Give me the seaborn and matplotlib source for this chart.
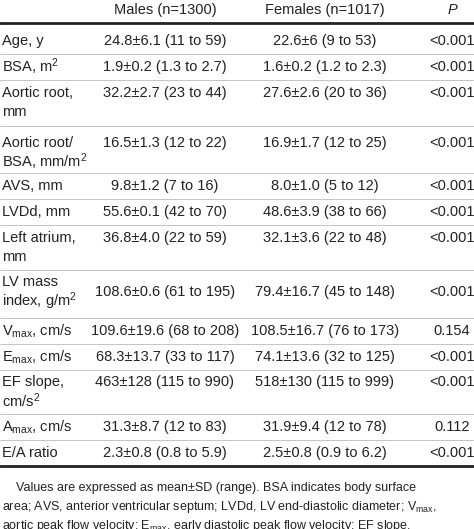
import matplotlib
matplotlib.use("Agg")
import matplotlib.pyplot as plt
import seaborn as sns

sns.set_theme(style="white")
plt.rcParams['font.family'] = ['Liberation Sans', 'DejaVu Sans']
plt.rcParams['mathtext.fontset'] = 'custom'
plt.rcParams['mathtext.rm'] = 'Liberation Sans'
plt.rcParams['mathtext.it'] = 'Liberation Sans:italic'

headers = ["Males (n=1300)", "Females (n=1017)", "P"]
labels = ["Age, y", "BSA, m$^2$", "Aortic root,\nmm", "Aortic root/\nBSA, mm/m$^2$", "AVS, mm",
          "LVDd, mm", "Left atrium,\nmm", "LV mass\nindex, g/m$^2$", "V$_{\\rm max}$, cm/s",
          "E$_{\\rm max}$, cm/s", "EF slope,\ncm/s$^2$", "A$_{\\rm max}$, cm/s", "E/A ratio"]
males = ["24.8±6.1 (11 to 59)", "1.9±0.2 (1.3 to 2.7)", "32.2±2.7 (23 to 44)", "16.5±1.3 (12 to 22)",
         "9.8±1.2 (7 to 16)", "55.6±0.1 (42 to 70)", "36.8±4.0 (22 to 59)", "108.6±0.6 (61 to 195)",
         "109.6±19.6 (68 to 208)", "68.3±13.7 (33 to 117)", "463±128 (115 to 990)",
         "31.3±8.7 (12 to 83)", "2.3±0.8 (0.8 to 5.9)"]
females = ["22.6±6 (9 to 53)", "1.6±0.2 (1.2 to 2.3)", "27.6±2.6 (20 to 36)", "16.9±1.7 (12 to 25)",
           "8.0±1.0 (5 to 12)", "48.6±3.9 (38 to 66)", "32.1±3.6 (22 to 48)", "79.4±16.7 (45 to 148)",
           "108.5±16.7 (76 to 173)", "74.1±13.6 (32 to 125)", "518±130 (115 to 999)",
           "31.9±9.4 (12 to 78)", "2.5±0.8 (0.9 to 6.2)"]
pvals = ["<0.001", "<0.001", "<0.001", "<0.001", "<0.001", "<0.001", "<0.001", "<0.001",
         "0.154", "<0.001", "<0.001", "0.112", "<0.001"]

label_y = [41, 67, 93, 143, 186, 212, 238, 282, 331, 357, 382, 427, 453]
value_y = [41, 67, 93, 143, 186, 212, 238, 292, 331, 357, 382, 427, 453]
seps = [54, 80, 126, 173, 199, 225, 270, 318, 344, 370, 414, 440]

W, H = 474, 529
fig = plt.figure(figsize=(W/100, H/100), dpi=100)
ax = fig.add_axes([0, 0, 1, 1])
ax.set_xlim(0, W); ax.set_ylim(H, 0); ax.axis('off')
fs = 10.5
for x, h in zip([165, 325, 452], headers):
    ax.text(x, 10, h, ha='center', va='center', fontsize=fs, style='italic' if h == 'P' else 'normal', color='#222')
ax.plot([0, W], [23, 23], color='#222', lw=2)
for i in range(len(labels)):
    lines = labels[i].split("\n")
    for j, ln in enumerate(lines):
        ax.text(2, label_y[i] + j*19, ln, ha='left', va='center', fontsize=fs, color='#222')
    ax.text(165, value_y[i], males[i], ha='center', va='center', fontsize=fs, color='#222')
    ax.text(325, value_y[i], females[i], ha='center', va='center', fontsize=fs, color='#222')
    ax.text(452, value_y[i], pvals[i], ha='center', va='center', fontsize=fs, color='#222')
for s in seps:
    ax.plot([0, W], [s, s], color='#bbbbbb', lw=0.6)
ax.plot([0, W], [466, 466], color='#222', lw=2)
foot = ["    Values are expressed as mean±SD (range). BSA indicates body surface",
        "area; AVS, anterior ventricular septum; LVDd, LV end-diastolic diameter; V$_{\\rm max}$,",
        "aortic peak flow velocity; E$_{\\rm max}$, early diastolic peak flow velocity; EF slope,"]
for k, f in enumerate(foot):
    ax.text(2, 488 + k*19, f, ha='left', va='center', fontsize=9, color='#222')
fig.savefig("out.png", dpi=100)
